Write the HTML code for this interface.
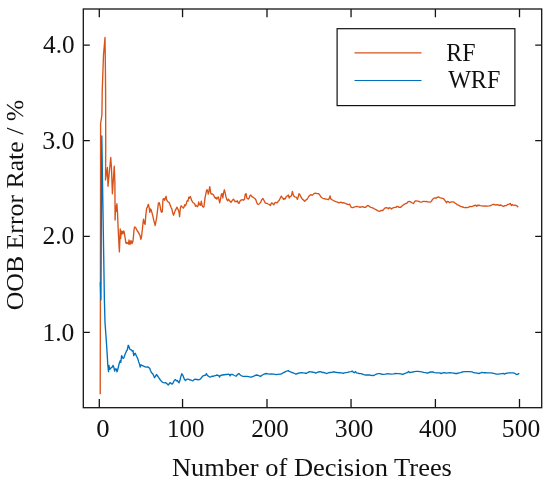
<!DOCTYPE html>
<html><head><meta charset="utf-8"><style>
html,body{margin:0;padding:0;background:#fff;width:550px;height:480px;overflow:hidden}
svg{display:block}
text{font-family:"Liberation Serif",serif;fill:#111}
</style></head><body>
<svg width="550" height="480" viewBox="0 0 550 480">
<rect x="0" y="0" width="550" height="480" fill="#fff"/>
<g id="lines" fill="none" stroke-width="1.35" stroke-linejoin="round">
<path d="M100.2 394.2 L100.4 300 L100.6 150 L100.6 123.75 L101.9 115 L102.25 90 L103.5 55 L105 37.5 L105.25 55 L105.6 90 L105.75 150 L105.5 180 L107.4 167.5 L108 186.3 L110.75 157.5 L111.5 168.75 L112.4 193.75 L114.25 166.25 L114.9 182.5 L115.1 220 L115.6 205.6 L116.25 211.25 L116.9 203.75 L117.5 212.5 L118.1 227.5 L119 245 L119.4 251.9 L120.25 229 L120.6 238.5 L121.25 231 L121.8 234 L122.5 231.5 L123 233.5 L123.75 231 L124.25 232.5 L125 237 L125.75 242.5 L126.25 243.5 L127 242.5 L127.75 243.25 L128.5 244 L129 240 L129.5 243 L130 244.5 L130.5 241 L131 243 L131.5 241 L132 243.5 L132.5 242.5 L133 241 L133.5 236 L134 230 L134.5 227 L135.25 227.5 L135.6 227.5 L136.5 229.4 L137.5 231.25 L138.5 232.5 L139.4 234.4 L140.1 235.8 L140.9 239.3 L141.7 235.8 L142.6 226.7 L143.5 219.2 L144.3 223.2 L145.1 224.4 L145.8 215.2 L146.6 208.3 L147.4 207.2 L148.3 204.3 L149.1 207.2 L149.8 212.3 L150.4 208.9 L151.2 210 L152 212.9 L152.9 216.3 L153.8 220.4 L154.6 223.2 L155.2 225.5 L155.8 222.1 L156.6 218.1 L157.5 210.6 L158.4 203.2 L159.2 202.6 L160 205.5 L160.7 210 L161.5 212.3 L162.3 211.8 L163 199.2 L163.8 198.6 L164.6 200.3 L165.3 198 L166.1 196.3 L166.6 199.7 L167.6 201.5 L168.4 202 L169.2 202.6 L170.1 204.9 L171 207.2 L171.8 208.9 L172.6 212.3 L173.5 215.2 L174.4 212.9 L175.2 210.6 L176.1 208.9 L176.9 207.2 L177.4 208.1 L178.3 210 L179 211.9 L179.6 216.6 L179.9 212.8 L180.5 207.2 L181.2 205.8 L181.8 206.7 L182.6 207.2 L183.3 208.1 L184 207.2 L184.6 204.8 L185.4 205.8 L186.1 204.4 L186.8 201.6 L187.4 200.6 L188 201.1 L188.7 197.3 L189.3 198.3 L190.1 196.4 L190.8 197.8 L191.5 200.1 L192.1 201.1 L192.9 202.5 L193.6 203 L194.3 203.4 L194.9 204.4 L195.5 206.2 L196.1 205.3 L196.8 206.2 L197.6 206.7 L198.3 204.4 L198.7 202 L199.2 204.8 L199.9 203.9 L200.6 205.3 L201.3 201.1 L201.9 204.4 L202.4 206.2 L203.2 207.2 L203.9 206.7 L204.6 201.6 L205.2 196.9 L206 193.1 L206.6 190.3 L207.1 189.8 L207.7 191.2 L208.3 194.1 L209 191.2 L209.7 186.6 L210.2 189.4 L210.7 193.1 L211.4 194.1 L212.1 193.9 L212.7 194.1 L213.5 195 L214.2 196.4 L214.9 197.8 L215.5 198.3 L215.9 197.4 L216.8 199.1 L217.5 198 L218.3 196.9 L219 199.6 L219.7 202.9 L220.5 199.1 L221.4 194.2 L222.1 193.6 L222.8 198 L223.5 193.1 L224.4 189.8 L225.2 193.1 L225.9 196.4 L226.8 199.6 L227.7 200.7 L228.4 199.1 L229.2 200.2 L230.1 201.3 L231 202.4 L231.7 201.3 L232.5 200.2 L233.4 199.1 L234.2 200.2 L235 201.8 L235.8 201.3 L236.6 201.8 L237.4 200.7 L238.3 202.9 L239 203.4 L239.7 201.8 L240.4 200.5 L241.2 200.2 L242.1 199.6 L243 199.8 L243.7 200.2 L244.5 199.1 L245.3 194.2 L246.1 193.6 L246.8 198 L247.5 198.5 L248.3 199.1 L249.2 198 L249.9 195.8 L250.8 195 L251.7 196.4 L252.4 196.9 L253.2 197.4 L254.1 198 L254.9 198.5 L255.7 199.6 L256.5 201.8 L257.3 203.8 L258.2 204.5 L259 204 L259.7 203.4 L260.6 202.4 L261.5 200.2 L262.3 199.1 L263 198.5 L263.9 200.2 L265 202.4 L266.1 203.4 L267.1 203.4 L268.2 204 L269.3 204.5 L270.4 205.6 L271.5 202.9 L272.6 203.4 L273.7 204.9 L274.8 202.9 L275.9 202.4 L277 202.9 L278 201.6 L279.1 200.5 L280.2 198.3 L281.3 196.1 L282.1 197.4 L282.8 198 L283.5 199.6 L284.3 198.5 L285 199.1 L285.9 197.2 L286.8 196.1 L287.5 195.8 L288.3 195 L289.2 198 L290 196.4 L290.8 196.4 L291.6 195.3 L292.4 191.5 L293.3 194.7 L294.1 196.4 L294.8 196.9 L295.7 197.2 L296.6 197.4 L297.4 199.4 L298.1 197.4 L299 193.6 L299.9 194.7 L300.6 196.4 L301.4 197.7 L302.3 199.1 L303.1 199.6 L303.9 200.5 L304.7 201.3 L305.5 200.5 L306.4 199.6 L307.2 199.1 L307.9 198 L308.8 196.4 L309.7 195.5 L310.4 195 L311.2 194.7 L312.1 195.3 L312.9 194.7 L313.7 194 L314.5 193.3 L315.3 193.1 L316.2 193.3 L317 193.6 L317.7 193.6 L318.6 193.6 L319.5 194.7 L320.3 195.8 L321 196.9 L321.9 197.7 L322.8 198.3 L324.3 198.6 L325.4 199 L326.5 199.2 L327.5 199.4 L328.6 199.7 L329.5 197.5 L330.1 195.9 L330.6 198.6 L331.4 199.4 L332.5 200 L333.5 200.5 L334.6 201.1 L335.7 201.6 L336.8 201.9 L337.9 202.4 L339 203 L340.1 202.4 L341.2 202.2 L342.3 203 L343.4 202.7 L344.4 203 L345.5 203.5 L346.6 203.8 L347.7 204.4 L348.8 204.6 L349.6 204.1 L350.4 205.7 L351.3 207.4 L352.4 207.7 L353.5 207.4 L354.6 206.8 L355.7 206.6 L356.8 206.3 L357.9 206.6 L359 206.8 L360 207.4 L361.1 206.8 L362.2 206.6 L363.3 206.8 L364.4 207.4 L365.5 207.4 L366.6 206.3 L367.7 205.5 L368.8 205.9 L369.9 206.8 L370.9 207.4 L372 207.7 L373.1 208.1 L374.2 208.8 L375.3 209.2 L376.4 209.9 L377.5 210.6 L378.6 211.2 L379.7 211.4 L380.1 211 L381.2 210.3 L382.3 210.6 L383.4 209.9 L384.5 208.4 L385.5 207.9 L386.6 207.7 L387.7 208.1 L388.6 208.8 L389.4 207.7 L390.5 208.1 L391.5 209 L392.6 208.1 L393.7 207.7 L394.8 207.4 L395.9 207.4 L397 206.3 L398.1 206.6 L399.2 207.4 L400.3 207.4 L401.4 206.6 L402.4 205.7 L403.5 204.8 L404.6 204.1 L405.7 203.5 L406.8 203.3 L407.9 201.9 L409 201.4 L410.1 201.6 L411.2 202.2 L412.3 203 L413.4 203.5 L414.4 201.9 L415.5 200.8 L416.6 200.8 L417.7 201.1 L418.8 201.4 L419.9 201.9 L421 202.2 L422.1 201.9 L423.2 201.4 L424.3 201.4 L425.3 201.6 L426.4 201.4 L427.5 201.9 L428.6 201.9 L429.7 202.2 L430.8 201.9 L431.9 200.3 L433 199 L434.1 198.1 L435.2 197.9 L436.3 198.1 L437.3 197.3 L438.1 197 L439.2 197.2 L440.3 197.9 L441.4 198.1 L442.5 198.3 L443.5 198.6 L444.4 199.7 L445.5 201.4 L446.6 202.7 L447.4 201.4 L448.5 201.6 L449.5 202.7 L450.6 202.2 L451.7 201.9 L452.8 201.9 L453.9 202.2 L455 203 L456.1 203.8 L457.2 204.6 L458.3 205.2 L459.4 205.7 L460.4 206.3 L461.5 206.6 L462.6 207 L463.7 207.4 L464.8 207.7 L465.9 207.4 L467 207.7 L468.1 207.4 L469.2 206.8 L470.3 206.3 L471.4 206.6 L472.4 206.3 L473.5 205.9 L474.6 205.5 L475.7 205.2 L476.8 206.3 L477.6 205.2 L478.4 205.5 L479.5 205.2 L480 205.6 L481.8 205.9 L483.6 206.2 L485.5 205.9 L487.3 206.2 L489.1 205.9 L490.9 205.5 L492.7 204.5 L494.1 204.4 L495.5 205 L496.8 204.7 L498.2 205 L499.5 205.5 L500.9 205 L502.3 205.9 L503.6 206.4 L505 205.6 L506.4 205.5 L507.7 204.5 L509.1 204.1 L510.2 203.5 L510.9 204.5 L511.6 205.5 L512.3 204.5 L513.2 205 L514.1 205.5 L515 205 L515.9 205.5 L516.8 205.6 L517.7 206.8 L518.2 206.2" stroke="#D95319"/>
<path d="M100.3 282 L100.9 300 L101.8 136 L104.4 300 L105 322.5 L105.9 335 L106.7 346.5 L107.4 357.9 L107.8 364.8 L108.5 371.7 L109 365.4 L109.6 369.4 L110.4 368.8 L111.2 367.6 L112.2 367.1 L113.1 365.4 L113.9 367.6 L114.7 371.1 L115.4 368.8 L116.2 368.8 L117 371.7 L117.7 369.9 L118.5 366.5 L119.3 363.1 L120.2 360.8 L120.8 362.5 L121.6 355.6 L122.2 356.8 L123 358.5 L123.8 357.9 L124.8 355 L125.7 352.8 L126.5 351 L127.3 349.9 L128.2 345.3 L128.8 345.9 L129.6 348.7 L130.5 349.7 L131.4 349.9 L132.2 351 L133 350.5 L133.7 355.6 L134.5 353.9 L135.3 353.3 L136.2 355.6 L137.1 357.3 L137.9 359.1 L138.7 361.9 L139.7 364.8 L140.2 367.1 L141 364.8 L141.9 365.4 L143.1 365.9 L144.2 366.5 L145.4 366.8 L146.5 367.1 L147.7 366.8 L148.8 367.6 L149.7 368.2 L150.5 370.5 L151.5 372.7 L152.7 373.6 L153.6 375.5 L154.5 377.7 L155.5 376.4 L156.4 374.5 L157.3 375.5 L158.2 376.8 L159.1 378.2 L160 379.5 L160.9 380.7 L161.8 381.6 L162.7 382.3 L163.6 382.7 L164.5 382.9 L165.5 382.7 L166.4 383.2 L167.3 384.1 L168.2 385 L169.1 384.1 L170 382.7 L170.9 383.2 L171.8 384.1 L172.7 383.6 L173.6 381.8 L174.5 380 L175.5 379.5 L176.4 380.9 L177.3 380.5 L178.2 381.8 L179.1 382.7 L180 380 L180.9 376.4 L181.8 373.8 L182.7 375 L183.6 377.3 L184.5 379.5 L185.5 380.5 L186.4 379.5 L187.3 379.1 L188.2 379.1 L189.1 379.5 L190 379.8 L190.9 380 L191.8 380.5 L192.7 380.9 L193.6 380 L194.5 379.5 L195.5 379.1 L196.4 379.5 L197.3 379.5 L198.2 379.8 L199.4 379.5 L200.3 379.1 L201.2 378 L202.1 376.8 L203 375.9 L203.9 375.5 L204.8 375.3 L205.7 375 L206.4 373.6 L207.1 375 L208 375.9 L208.9 376.5 L209.8 377.1 L210.7 376.8 L211.6 376.4 L212.5 376.2 L213.5 376.2 L214.4 375.9 L215.3 375.6 L216.2 375.3 L217.1 375 L218 375.3 L218.9 375.9 L219.6 377.1 L220.3 375.5 L221.2 375.3 L222.1 375 L223 375 L223.9 374.7 L224.8 374.7 L225.7 374.5 L226.6 374.5 L227.5 374.4 L228.5 374.1 L229.4 374.5 L230 375.9 L230.7 374.5 L231.6 374.4 L232.5 374.5 L233.5 375 L234.4 375.5 L235.3 375.9 L236.2 376.2 L237.1 375 L238 374.1 L238.9 373.6 L239.8 374.5 L240.7 375.3 L241.6 375.9 L242.5 376.2 L243.5 376.4 L245.3 376.4 L247.1 376.4 L249.6 376.8 L251.5 377.1 L253.3 376.4 L255.1 375.5 L256.9 375 L258.7 375.6 L260.5 376.4 L262.4 375 L264.2 374.1 L266 373.5 L267.8 373.8 L269.6 374.1 L271.5 373.8 L273.3 374.1 L275.1 374.4 L276.5 374.7 L277.8 374.4 L279.6 374.1 L281 374.1 L282.4 373.2 L284.2 372.3 L286 371.4 L287.4 370.9 L288.3 370.5 L289.2 371.4 L290.5 371.8 L291.9 372.5 L293.3 372.9 L294.6 373.5 L295.8 374.1 L297.6 373.5 L299.5 372.9 L301.3 372.7 L303.1 372.9 L304.9 373.2 L306.7 373.2 L308.1 372.3 L309.5 371.6 L310.8 371.8 L312.2 372 L313.5 372.3 L314.9 372.5 L315.8 373.2 L317.2 372.3 L318.5 372 L319.9 371.6 L321.3 371.8 L322.2 372.5 L323.5 372.3 L324.9 372.9 L326.3 373.5 L327.6 373.2 L329 372.7 L330.4 372.5 L331.7 372.3 L333.1 371.8 L334.5 372 L335.8 372.3 L337.2 372.5 L338.5 372.7 L339.9 372.7 L341.3 372.9 L342.6 373.2 L343.8 373.2 L345.6 372.7 L347.5 372.3 L349.3 371.8 L351.1 371.6 L352.2 371.1 L353.4 372.3 L354.3 372.7 L355.5 371.6 L356.5 372.9 L357.9 373.2 L359.3 373.5 L361.1 373.6 L362.5 374.1 L363.8 374.7 L365.6 375 L367.5 375 L369.3 375 L371.1 375.3 L372.9 375.5 L374.3 375.3 L375.6 374.5 L377 373.8 L378.4 373.6 L380.2 373.6 L382 374.4 L383.8 374.4 L385.6 374.1 L387.5 373.6 L389.3 373.8 L391.1 374.1 L393.6 373.8 L395.5 373.5 L397.3 373.6 L399.1 373.6 L400.9 373.8 L402.7 374.4 L404.5 373.6 L406.4 372.9 L407.7 372.3 L408.6 371.4 L409.5 372.5 L410.9 372.3 L412.7 372 L414.5 371.6 L416.4 371.4 L418.2 371.4 L420 371.6 L421.8 371.8 L423.6 372.3 L425.5 372.7 L427.3 373.2 L429.1 372.5 L430.9 371.8 L432.7 372 L434.5 372.7 L436.4 372.9 L438.2 372.9 L439.8 372.9 L441.2 373.6 L442.5 372.9 L444.4 372.7 L446.2 373.2 L448 372.9 L449.8 372.7 L451.6 372.9 L453.5 373.2 L455.3 373.5 L457.1 373.5 L458.9 372.9 L460.7 372.7 L462.5 371.8 L464.4 371.6 L467.1 371.6 L469.8 371.6 L472.1 371.8 L473.5 372.7 L475.3 372.9 L477.1 373.2 L478.9 373.5 L480.7 372.9 L481.8 372.5 L483.6 372.7 L485.5 372.7 L487.3 372.9 L489.1 372.9 L490.9 372.9 L492.7 373.2 L494.5 373.6 L496.4 374.1 L498.2 374.1 L500 373.8 L501.8 373.6 L503.6 373.5 L504.5 374.1 L505.5 373.5 L507.3 373.2 L509.1 372.9 L510.9 372.9 L512.7 372.9 L514.5 373.2 L515.9 374.1 L516.8 374.5 L517.7 374.4 L518.6 373.6 L519.1 374.1" stroke="#0072BD"/>
</g>
<g stroke="#141414" stroke-width="1.3" fill="none">
<rect x="83.3" y="9.0" width="458.4" height="398.7"/>
<path d="M99.3 407.7V399M99.3 9.0V17.3M182.56 407.7V399M182.56 9.0V17.3M267.0 407.7V399M267.0 9.0V17.3M351.05 407.7V399M351.05 9.0V17.3M435.4 407.7V399M435.4 9.0V17.3M519.5 407.7V399M519.5 9.0V17.3M83.3 45.2H89.8M541.7 45.2H535.2M83.3 140.6H89.8M541.7 140.6H535.2M83.3 236.3H89.8M541.7 236.3H535.2M83.3 332.3H89.8M541.7 332.3H535.2"/>
</g>
<text x="43.08" y="53.00" font-size="26" textLength="31.44" lengthAdjust="spacingAndGlyphs">4.0</text>
<text x="42.13" y="149.00" font-size="26" textLength="32.43" lengthAdjust="spacingAndGlyphs">3.0</text>
<text x="42.51" y="244.00" font-size="26" textLength="31.87" lengthAdjust="spacingAndGlyphs">2.0</text>
<text x="42.42" y="341.00" font-size="26" textLength="31.98" lengthAdjust="spacingAndGlyphs">1.0</text>
<text x="96.20" y="437.00" font-size="26" textLength="13.32" lengthAdjust="spacingAndGlyphs">0</text>
<text x="166.91" y="437.00" font-size="26" textLength="37.53" lengthAdjust="spacingAndGlyphs">100</text>
<text x="251.32" y="437.00" font-size="26" textLength="37.54" lengthAdjust="spacingAndGlyphs">200</text>
<text x="334.79" y="437.00" font-size="26" textLength="38.56" lengthAdjust="spacingAndGlyphs">300</text>
<text x="419.07" y="437.00" font-size="26" textLength="37.90" lengthAdjust="spacingAndGlyphs">400</text>
<text x="501.83" y="437.00" font-size="26" textLength="38.44" lengthAdjust="spacingAndGlyphs">500</text>
<text x="171.99" y="476.00" font-size="26" textLength="279.94" lengthAdjust="spacingAndGlyphs">Number of Decision Trees</text>
<text style="text-rendering:geometricPrecision" transform="translate(22.76 310.31) rotate(-90)" font-size="24.3" textLength="210.58" lengthAdjust="spacingAndGlyphs">OOB Error Rate / %</text>
<rect x="337.1" y="28.7" width="177.8" height="76.9" fill="#fff" stroke="#111" stroke-width="1.2"/>
<path d="M354.5 52.9H421.5" stroke="#D95319" stroke-width="1.1"/>
<path d="M354.5 80.5H421.5" stroke="#0072BD" stroke-width="1.1"/>
<text x="446.33" y="61.00" font-size="25.5" textLength="29.20" lengthAdjust="spacingAndGlyphs">RF</text>
<text x="448.15" y="88.00" font-size="25.5" textLength="52.18" lengthAdjust="spacingAndGlyphs">WRF</text>
</svg>
</body></html>
